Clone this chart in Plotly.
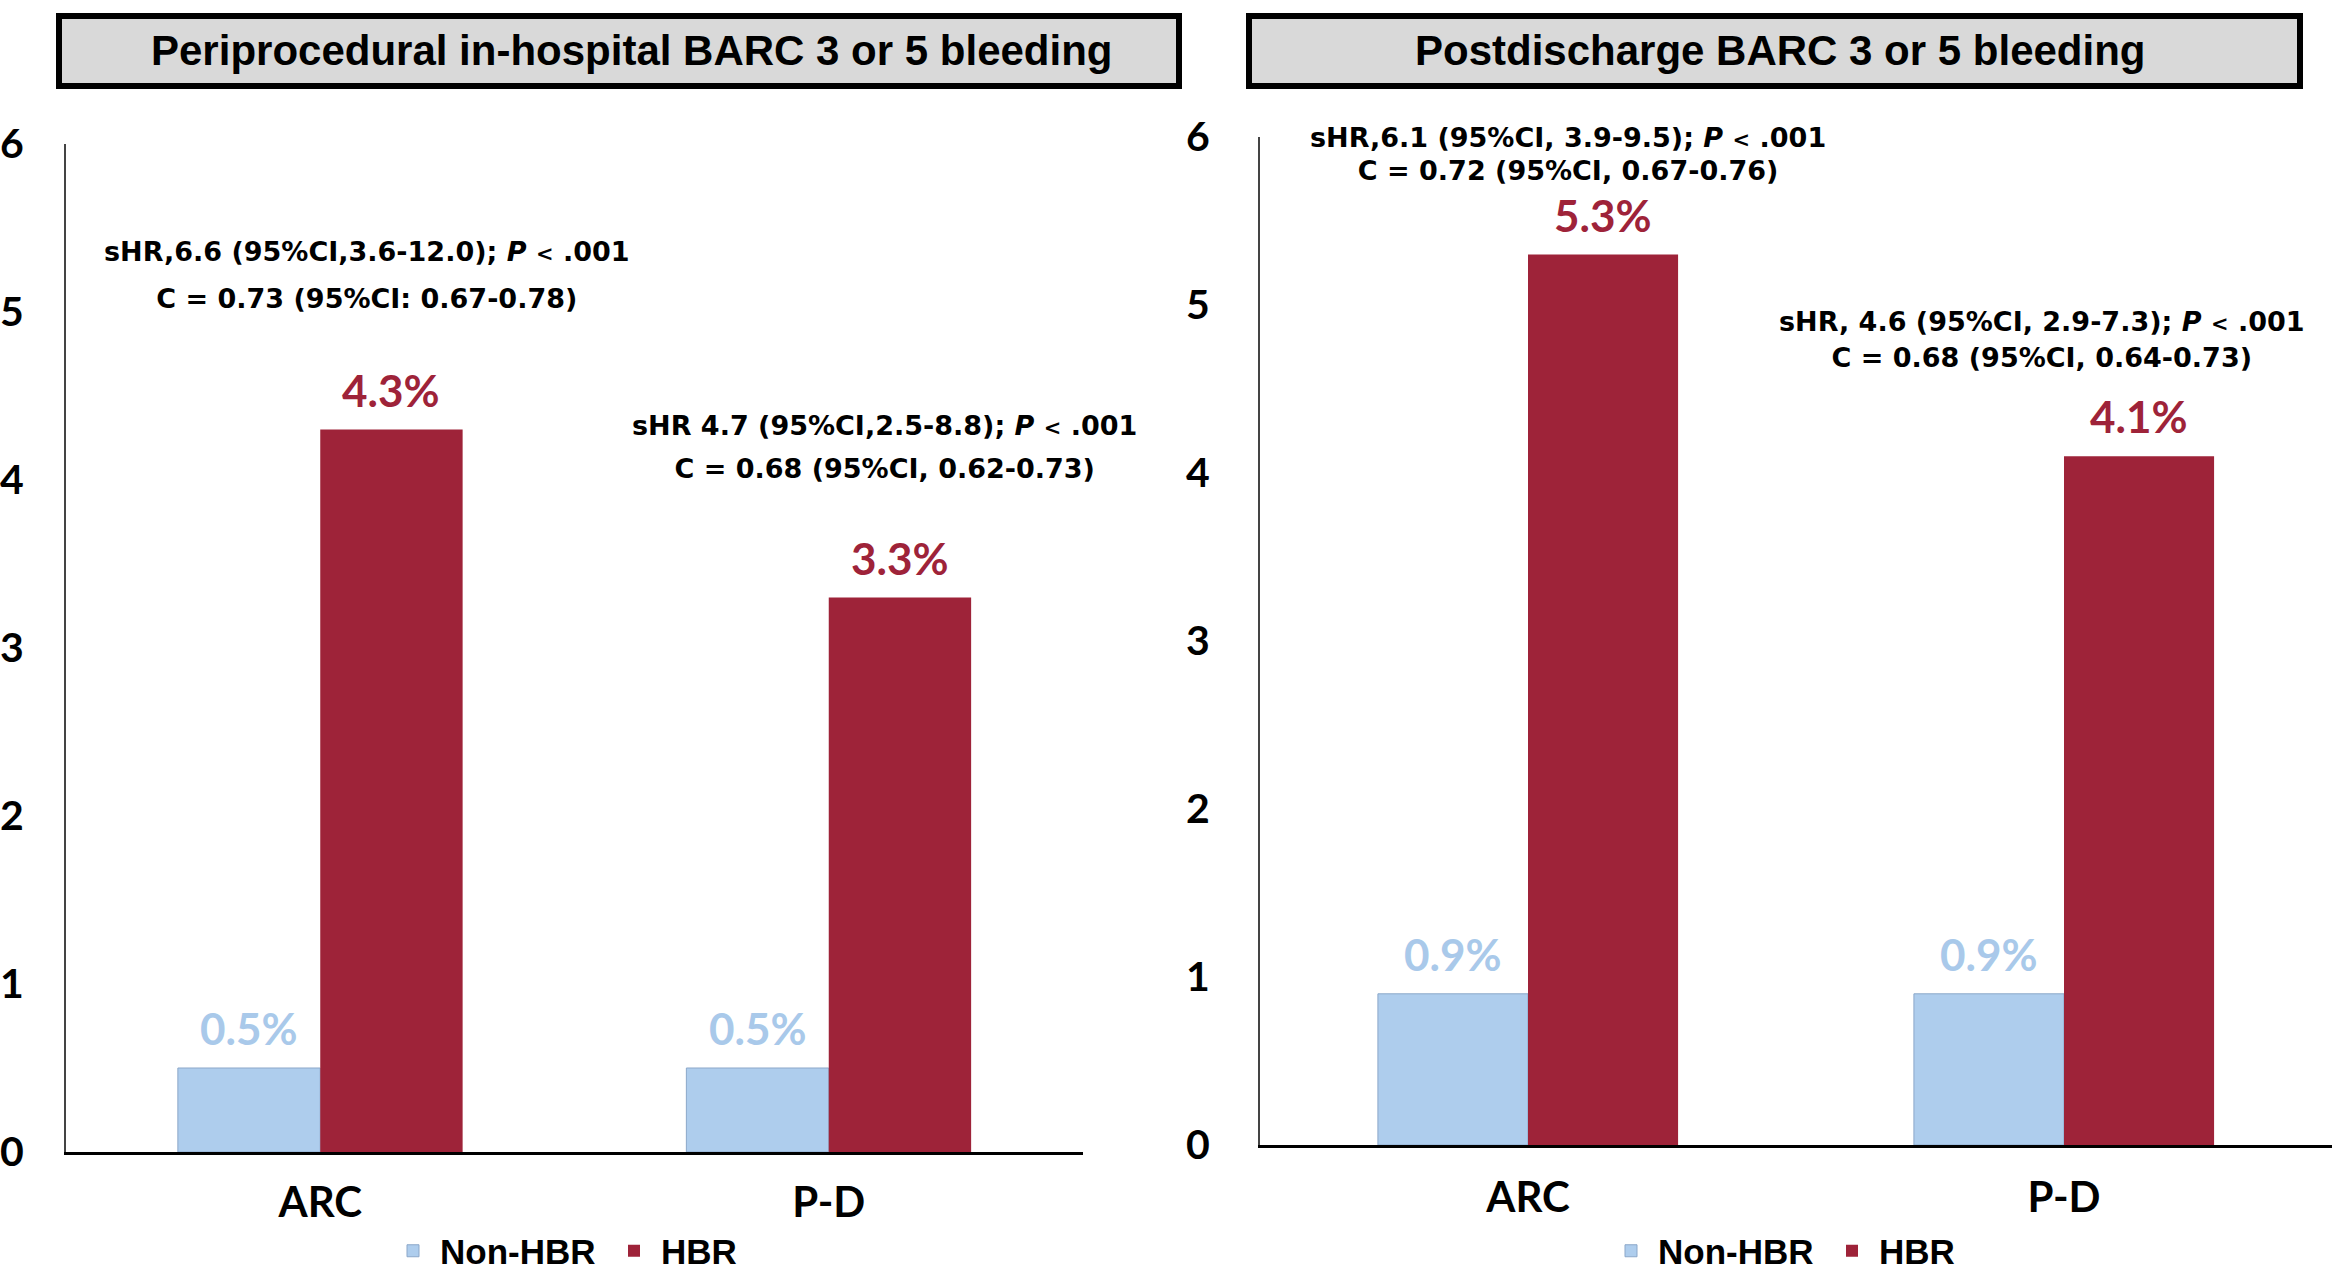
import plotly.graph_objects as go

# ---------------- data ----------------
categories = ["ARC", "P-D"]
series_names = ["Non-HBR", "HBR"]
peri_non_hbr = [0.5, 0.5]
peri_hbr = [4.3, 3.3]
post_non_hbr = [0.9, 0.9]
post_hbr = [5.3, 4.1]
y_tick_values = [0, 1, 2, 3, 4, 5, 6]
panel_titles = ["Periprocedural in-hospital BARC 3 or 5 bleeding",
                "Postdischarge BARC 3 or 5 bleeding"]
peri_stats = [["sHR,6.6 (95%CI,3.6-12.0);", "C = 0.73 (95%CI: 0.67-0.78)"],
              ["sHR 4.7 (95%CI,2.5-8.8);", "C = 0.68 (95%CI, 0.62-0.73)"]]
post_stats = [["sHR,6.1 (95%CI, 3.9-9.5);", "C = 0.72 (95%CI, 0.67-0.76)"],
              ["sHR, 4.6 (95%CI, 2.9-7.3);", "C = 0.68 (95%CI, 0.64-0.73)"]]
p_text = "<i>P</i> <span style='font-size:21px'>&lt;</span> .001"

# ---------------- style ----------------
W, H = 2341, 1274
BLUE = "#AECDED"
RED = "#9E2339"
BLUE_TXT = "#A9C9EA"
LABEL_FONT = "Lato"
STAT_FONT = "DejaVu Sans"
TITLE_FONT = "Liberation Sans"
BARGAP = 0.44
STAT_SIZE = 27


def px(x):
    return x / W


def py(y):
    return 1 - y / H


fig = go.Figure()

panels = [
    dict(non=peri_non_hbr, hbr=peri_hbr, xa="x", ya="y", legend="legend"),
    dict(non=post_non_hbr, hbr=post_hbr, xa="x2", ya="y2", legend="legend2"),
]

for p in panels:
    fig.add_trace(go.Bar(
        x=categories, y=p["non"], name=series_names[0],
        marker=dict(color=BLUE, line=dict(color="#8BA7C9", width=1)),
        xaxis=p["xa"], yaxis=p["ya"], legend=p["legend"], hoverinfo="skip"))
    fig.add_trace(go.Bar(
        x=categories, y=p["hbr"], name=series_names[1],
        marker=dict(color=RED, line=dict(width=0)),
        xaxis=p["xa"], yaxis=p["ya"], legend=p["legend"], hoverinfo="skip"))

# value labels above bars, positioned in axis coordinates
bar_w = (1 - BARGAP) / 2
annotations = []
for p in panels:
    for vals, off, col in ((p["non"], -bar_w / 2, BLUE_TXT), (p["hbr"], bar_w / 2, RED)):
        for i, v in enumerate(vals):
            annotations.append(dict(
                x=i + off, y=v, xref=p["xa"], yref=p["ya"], text=f"<b>{v}%</b>",
                showarrow=False, yanchor="bottom", yshift=12,
                font=dict(family=LABEL_FONT, size=44, color=col)))

# statistic texts: (centre x, centre y, line pitch) in pixels
stat_pos = [
    [(367, 275, 47), (884, 447, 43)],
    [(1568, 154, 33), (2042, 339, 36)],
]
for stats, pos in zip((peri_stats, post_stats), stat_pos):
    for lines, (cx, cy, pitch) in zip(stats, pos):
        txt = (f"<span style='font-size:{STAT_SIZE}px'><b>{lines[0]} {p_text}</b></span>"
               f"<br><span style='font-size:{STAT_SIZE}px'><b>{lines[1]}</b></span>")
        annotations.append(dict(
            x=px(cx), y=py(cy), xref="paper", yref="paper", text=txt,
            showarrow=False, xanchor="center", yanchor="middle", align="center",
            font=dict(family=STAT_FONT, size=pitch / 1.3, color="black")))

# panel title boxes
boxes = [(59, 16, 1179, 86, 632), (1249, 16, 2300, 86, 1780)]
shapes = []
for (x0, y0, x1, y1, tx), title in zip(boxes, panel_titles):
    shapes.append(dict(type="rect", xref="paper", yref="paper",
                       x0=px(x0), x1=px(x1), y0=py(y0), y1=py(y1),
                       fillcolor="#D9D9D9", line=dict(color="black", width=6),
                       layer="below"))
    annotations.append(dict(x=px(tx), y=py(51), xref="paper", yref="paper",
                            text=f"<b>{title}</b>", showarrow=False,
                            xanchor="center", yanchor="middle",
                            font=dict(family=TITLE_FONT, size=42, color="black")))

xaxis_common = dict(type="category", showline=True, linecolor="black", linewidth=3,
                    showgrid=False, zeroline=False, ticks="",
                    tickfont=dict(family=LABEL_FONT, size=42, color="black", weight="bold"),
                    fixedrange=True)
yaxis_common = dict(range=[0, 6], tickvals=y_tick_values, showline=True,
                    linecolor="#444444", linewidth=2, showgrid=False, zeroline=False,
                    ticks="", tickfont=dict(family=LABEL_FONT, size=41, color="black",
                                            weight="bold"), fixedrange=True)

legend_common = dict(orientation="h", yanchor="middle", xanchor="center",
                     bgcolor="rgba(0,0,0,0)", entrywidth=162, entrywidthmode="pixels",
                     itemwidth=44,
                     font=dict(family=TITLE_FONT, size=35, color="black", weight="bold"))

fig.update_layout(
    width=W, height=H,
    margin=dict(l=0, r=0, t=0, b=0, autoexpand=False),
    paper_bgcolor="white", plot_bgcolor="white",
    barmode="group", bargap=BARGAP, bargroupgap=0,
    xaxis=dict(domain=[px(66), px(1083)], anchor="y", ticklabelstandoff=12, **xaxis_common),
    yaxis=dict(domain=[py(1152), py(144)], anchor="x", ticklabelstandoff=32, **yaxis_common),
    xaxis2=dict(domain=[px(1260), px(2332)], anchor="y2", ticklabelstandoff=14, **xaxis_common),
    yaxis2=dict(domain=[py(1145), py(137)], anchor="x2", ticklabelstandoff=40, **yaxis_common),
    legend=dict(x=px(607), y=py(1251), **legend_common),
    legend2=dict(x=px(1825), y=py(1251), **legend_common),
    annotations=annotations,
    shapes=shapes,
    showlegend=True,
)

fig.write_html("out.html")
